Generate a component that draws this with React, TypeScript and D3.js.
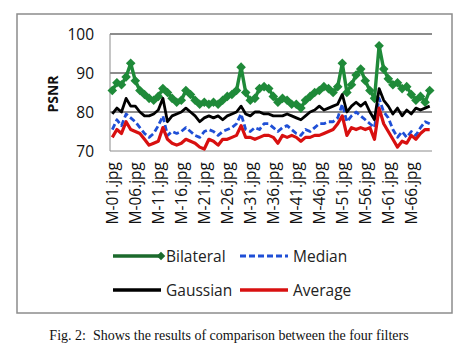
import React from "react";
import * as d3 from "d3";

// image names M-01.jpg ... M-70.jpg
const images = d3.range(1, 71).map((n) => `M-${String(n).padStart(2, "0")}.jpg`);

const bilateral = [
  85.5, 87.5, 87, 89, 92.5, 88, 85.5, 84.5, 83.5, 83,
  84, 86, 85, 83.5, 82.5, 83, 85.5, 84.5, 83, 82,
  82.5, 82, 82.5, 82, 83, 84, 84.5, 85.5, 91.5, 85,
  83, 83.5, 86, 86.5, 86, 84, 82.5, 83.5, 83, 82,
  82, 81, 83, 84, 85, 85.5, 86.5, 86, 85, 86.5,
  92.5, 85, 87, 89.5, 91, 88, 85.5, 83.5, 97, 91,
  88.5, 87, 87.5, 86, 86.5, 84.5, 83, 84, 82.5, 85.5,
];
const median = [
  75.5, 78, 76.5, 79.5, 78.5, 77.5, 76, 74.5, 73.5, 74.5,
  76.5, 79, 74, 75, 74.5, 75, 76, 75, 74, 73.5,
  75, 75.5, 75, 74, 75, 75.5, 76, 77, 79.5, 75.5,
  75, 76, 75.5, 77, 77, 76, 75, 76, 76.5, 75.5,
  74.5, 74, 75.5, 75, 76, 77, 77, 77.5, 77.5, 78.5,
  82, 77.5, 79, 80, 79, 78, 77, 76, 83.5, 80,
  78.5, 75.5, 73.5, 75, 73.5, 75, 74, 76, 77.5, 77,
];
const gaussian = [
  79.5, 81, 80, 83.5, 81.5, 81.5, 80, 79, 79, 79.5,
  80.5, 83.5, 77.5, 79, 79.5, 80, 81, 80, 79, 77.5,
  78.5, 79, 78.5, 79, 78, 79, 79.5, 80, 81.5, 79.5,
  79, 80, 80, 79.5, 79.5, 79, 79, 79, 79.5, 79,
  78.5, 78, 79, 80, 80.5, 81.5, 80.5, 81, 81.5, 82,
  84.5, 80, 81.5, 82.5, 81.5, 82.5, 80, 78, 86, 83,
  81.5, 79.5, 81, 79, 80.5, 79.5, 81, 80.5, 81, 81.5,
];
const average = [
  73.5, 75.5, 74.5, 77.5, 75.5, 75, 74.5, 73, 71.5, 72,
  72.5, 76, 73, 72, 71.5, 72, 73, 72.5, 72, 71,
  70.5, 73, 72.5, 71.5, 73, 73, 73.5, 74, 76.5, 73.5,
  73.5, 73, 73.5, 74, 74, 73.5, 72, 74, 73.5, 74,
  73.5, 72.5, 73.5, 73.5, 74, 74, 74.5, 75, 75.5, 77,
  79, 74, 76, 75.5, 76, 75.5, 76, 73, 81, 77,
  75, 73, 71, 72.5, 72, 74, 73, 74.5, 75.5, 75.5,
];

const yTicks = [70, 80, 90, 100];
const gridTicks = [80, 90, 100];

const GREEN = "#1f8a39";
const BLUE = "#1f4fd6";
const BLACK = "#000000";
const RED = "#d81010";

const series = [
  { name: "Bilateral", values: bilateral, color: GREEN, width: 3.4, dash: null },
  { name: "Median", values: median, color: BLUE, width: 2.8, dash: "6,3" },
  { name: "Gaussian", values: gaussian, color: BLACK, width: 2.8, dash: null },
  { name: "Average", values: average, color: RED, width: 3.2, dash: null },
];

const font = "'Open Sans', sans-serif";

export default function App() {
  const width = 474;
  const height = 353;
  const plot = { left: 110, right: 432, top: 34, bottom: 151 };

  const x = d3.scaleBand<string>().domain(images).range([plot.left, plot.right]);
  const cx = (name: string) => (x(name) ?? 0) + x.bandwidth() / 2;
  const y = d3.scaleLinear().domain([70, 100]).range([plot.bottom, plot.top]);

  const line = d3
    .line<number>()
    .x((_, i) => cx(images[i]))
    .y((d) => y(d));

  const diamond = d3.symbol().type(d3.symbolSquare).size(46)();
  const legendDiamond = d3.symbol().type(d3.symbolSquare).size(36)();

  const legend = [
    { s: series[0], lx: 113, ly: 256 },
    { s: series[1], lx: 240, ly: 256 },
    { s: series[2], lx: 113, ly: 290 },
    { s: series[3], lx: 240, ly: 290 },
  ];

  return (
    <svg
      width={width}
      height={height}
      style={{ position: "absolute", left: 0, top: 0, background: "#fff" }}
    >
      <rect x={17} y={14} width={435} height={299} fill="#fff" stroke="#8c8c8c" strokeWidth={1.5} />

      {/* gridlines */}
      {gridTicks.map((t) => (
        <line key={t} x1={plot.left} x2={plot.right} y1={y(t)} y2={y(t)} stroke="#1a1a1a" strokeWidth={1} />
      ))}
      <line x1={plot.left} x2={plot.right} y1={y(70)} y2={y(70)} stroke="#8c8c8c" strokeWidth={1} />
      <line x1={plot.left} x2={plot.left} y1={y(100)} y2={y(70)} stroke="#8c8c8c" strokeWidth={1} />

      {/* y ticks */}
      {yTicks.map((t) => (
        <text key={t} x={94} y={y(t)} dy="0.36em" textAnchor="end" fontFamily={font} fontSize={15.5} fill="#111">
          {t}
        </text>
      ))}
      <text
        transform={`translate(58,94) rotate(-90)`}
        textAnchor="middle"
        fontFamily={font}
        fontSize={14}
        fontWeight="bold"
        fill="#111"
      >
        PSNR
      </text>

      {/* x labels */}
      {images
        .filter((_, i) => i % 5 === 0)
        .map((name) => (
          <text
            key={name}
            transform={`translate(${cx(name)},162) rotate(-90)`}
            dy="0.36em"
            textAnchor="end"
            fontFamily={font}
            fontSize={15.5}
            fill="#111"
          >
            {name}
          </text>
        ))}

      {/* series */}
      <path
        d={line(bilateral) ?? ""}
        fill="none"
        stroke={GREEN}
        strokeWidth={3.4}
        strokeLinejoin="round"
      />
      {bilateral.map((v, i) => (
        <path
          key={i}
          d={diamond ?? ""}
          transform={`translate(${cx(images[i])},${y(v)}) rotate(45)`}
          fill={GREEN}
        />
      ))}
      {series.slice(1).map((s) => (
        <path
          key={s.name}
          d={line(s.values) ?? ""}
          fill="none"
          stroke={s.color}
          strokeWidth={s.width}
          strokeDasharray={s.dash ?? undefined}
          strokeLinejoin="round"
        />
      ))}

      {/* legend */}
      {legend.map(({ s, lx, ly }) => (
        <g key={s.name}>
          <line
            x1={lx}
            x2={lx + 48}
            y1={ly}
            y2={ly}
            stroke={s.name === "Bilateral" ? "#1b6a2c" : s.color}
            strokeWidth={s.name === "Median" ? 2.8 : 3.4}
            strokeDasharray={s.dash ?? undefined}
          />
          {s.name === "Bilateral" && (
            <path d={legendDiamond ?? ""} transform={`translate(${lx + 48},${ly}) rotate(45)`} fill="#1b6a2c" />
          )}
          <text x={lx + 53} y={ly} dy="0.36em" fontFamily={font} fontSize={15.5} fill="#222">
            {s.name}
          </text>
        </g>
      ))}

      <text
        x={229}
        y={340}
        textAnchor="middle"
        fontFamily="'Liberation Serif', 'Times New Roman', serif"
        fontSize={14}
        fill="#111"
        style={{ whiteSpace: "pre" }}
      >
        {"Fig. 2:  Shows the results of comparison between the four filters"}
      </text>
    </svg>
  );
}
